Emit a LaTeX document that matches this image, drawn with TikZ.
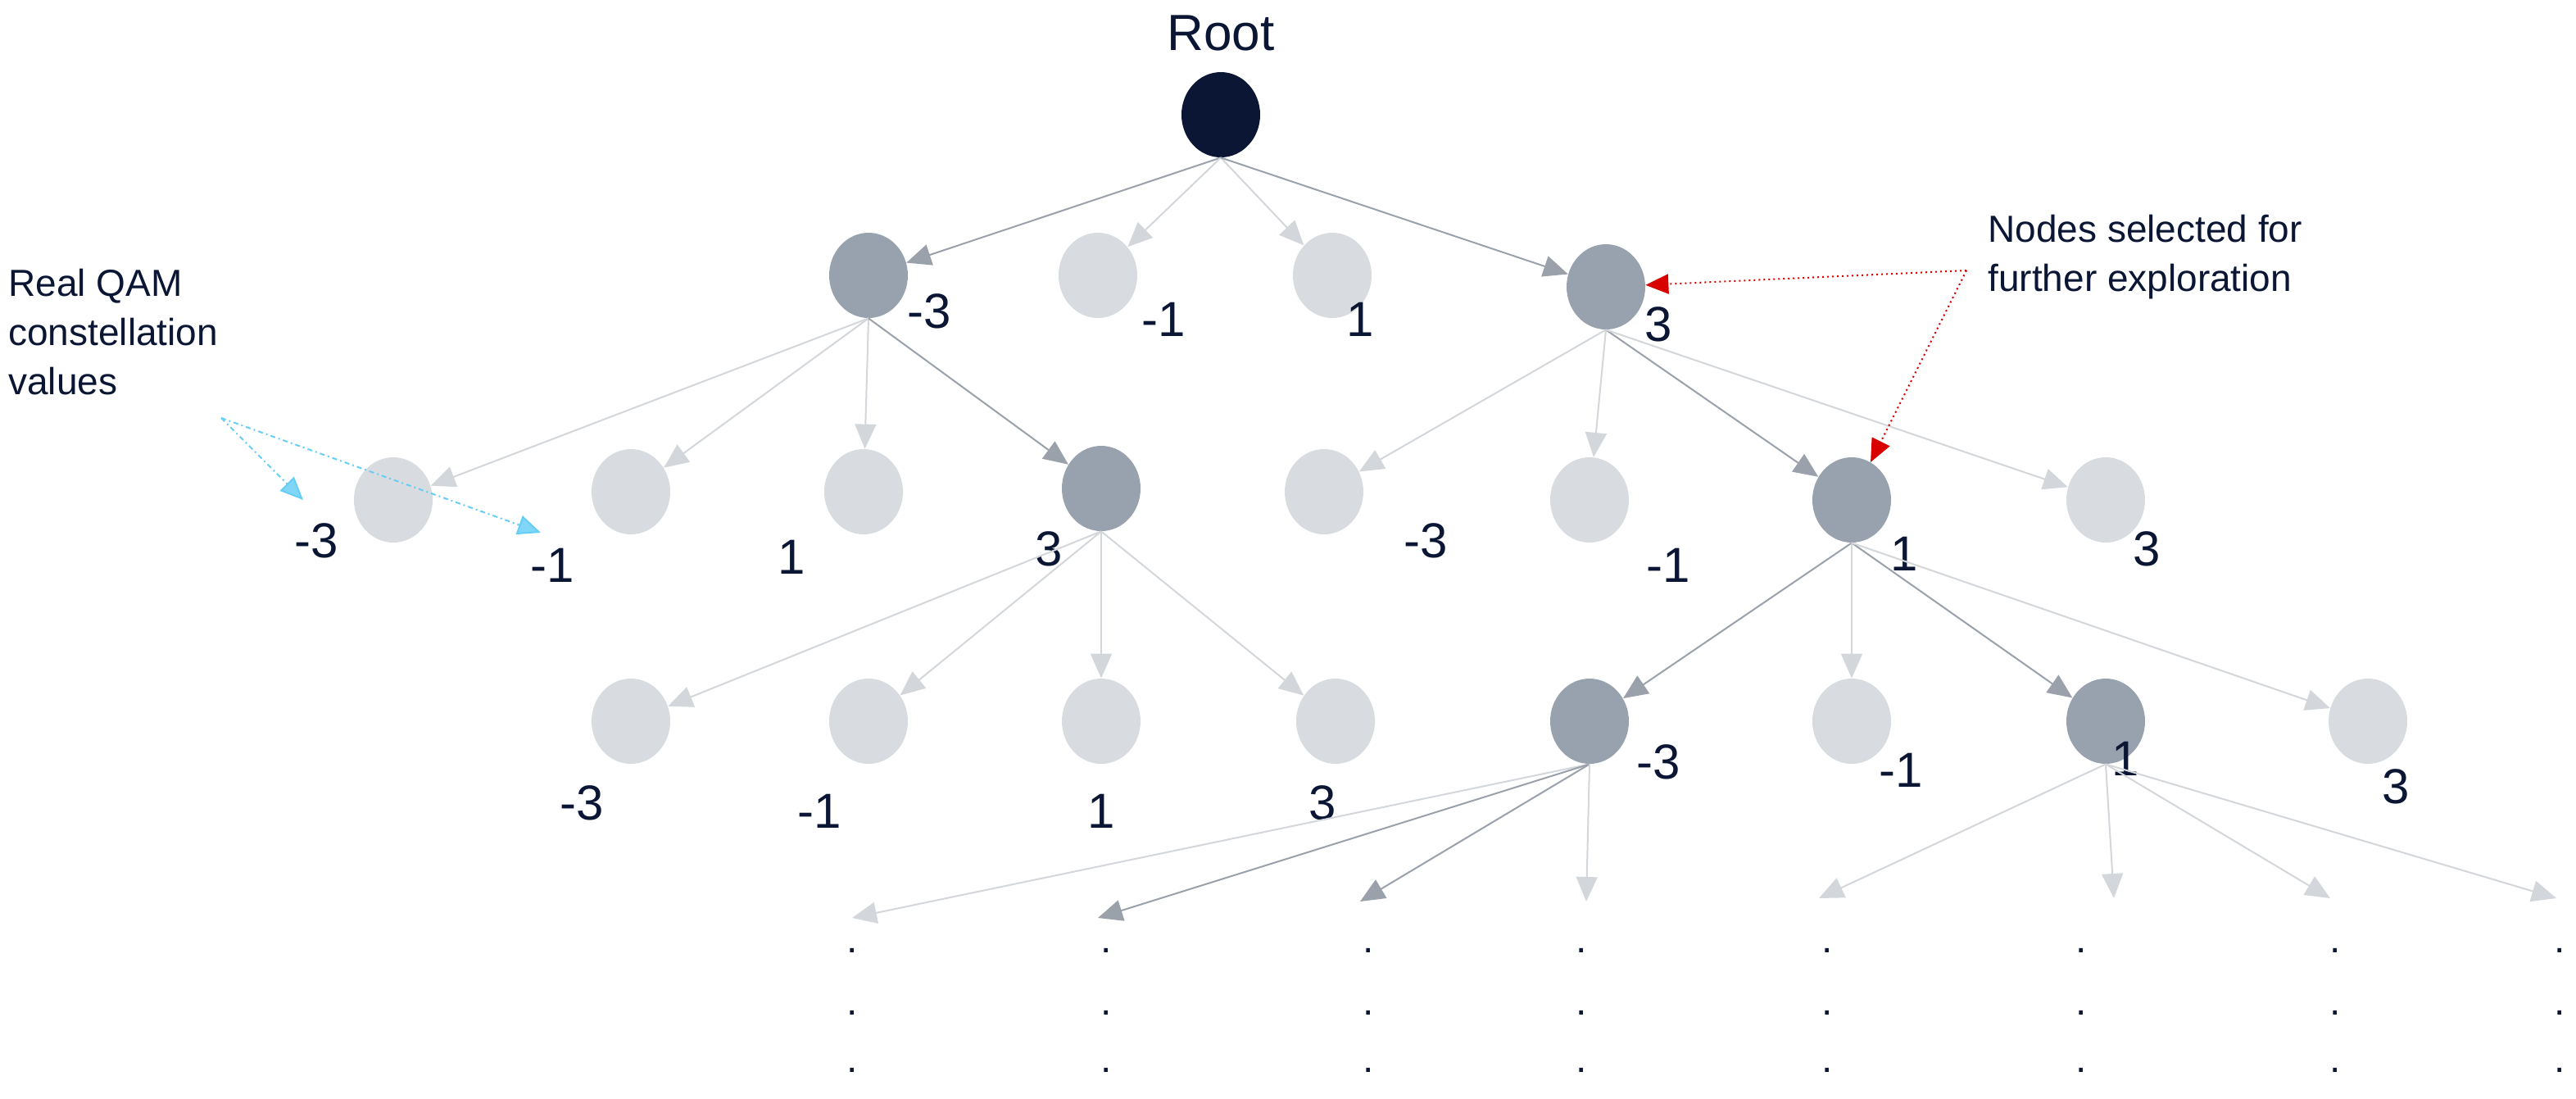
\documentclass[tikz,border=0pt]{standalone}
\usepackage{fontspec}
\setmainfont{Liberation Sans}
\usetikzlibrary{shapes.geometric,arrows.meta}
\definecolor{navy}{HTML}{0A1633}
\definecolor{dk}{HTML}{98A2AE}
\definecolor{lt}{HTML}{D8DBDF}
\definecolor{dkl}{HTML}{9AA1AA}
\definecolor{ltl}{HTML}{D3D6DA}
\begin{document}
\begin{tikzpicture}[x=1pt,y=-1pt,
  nd/.style={ellipse,minimum width=48pt,minimum height=52pt,inner sep=0pt},
  dn/.style={nd,fill=dk},
  ln/.style={nd,fill=lt},
  lab/.style={text=navy,font=\fontsize{30}{32}\selectfont,inner sep=0pt},
  de/.style={draw=dkl,line width=1pt,-{Triangle[length=15pt,width=13pt,fill=dkl]}},
  le/.style={draw=ltl,line width=1pt,-{Triangle[length=15pt,width=13pt,fill=ltl]}},
  dot/.style={text=navy,font=\fontsize{24}{24}\selectfont,inner sep=0pt}]
\useasboundingbox (0,0) rectangle (1572,670);
% root
\node[nd,fill=navy] (r) at (745,70) {};
\node[lab,font=\fontsize{31}{32}\selectfont] (rl) at (745,20) {Root};
% level 1
\node[dn] (a) at (530,168) {};
\node[ln] (b) at (670,168) {};
\node[ln] (c) at (813,168) {};
\node[dn] (d) at (980,175) {};
\node[lab] at (567,190) {-3};
\node[lab] at (710,195) {-1};
\node[lab] at (830,195) {1};
\node[lab] at (1012,198) {3};
\draw[de] (r.south) -- (a); \draw[le] (r.south) -- (b); \draw[le] (r.south) -- (c); \draw[de] (r.south) -- (d);
% level 2 left
\node[ln] (a1) at (240,305) {};
\node[ln] (a2) at (385,300) {};
\node[ln] (a3) at (527,300) {};
\node[dn] (a4) at (672,298) {};
\node[lab] at (193,330) {-3};
\node[lab] at (337,345) {-1};
\node[lab] at (483,340) {1};
\node[lab] at (640,335) {3};
\draw[le] (a.south) -- (a1); \draw[le] (a.south) -- (a2); \draw[le] (a.south) -- (a3); \draw[de] (a.south) -- (a4);
% level 2 right
\node[ln] (d1) at (808,300) {};
\node[ln] (d2) at (970,305) {};
\node[dn] (d3) at (1130,305) {};
\node[ln] (d4) at (1285,305) {};
\node[lab] at (870,330) {-3};
\node[lab] at (1018,345) {-1};
\node[lab] at (1162,338) {1};
\node[lab] at (1310,335) {3};
\draw[le] (d.south) -- (d1); \draw[le] (d.south) -- (d2); \draw[de] (d.south) -- (d3); \draw[le] (d.south) -- (d4);
% level 3 left
\node[ln] (e1) at (385,440) {};
\node[ln] (e2) at (530,440) {};
\node[ln] (e3) at (672,440) {};
\node[ln] (e4) at (815,440) {};
\node[lab] at (355,490) {-3};
\node[lab] at (500,495) {-1};
\node[lab] at (672,495) {1};
\node[lab] at (807,490) {3};
\draw[le] (a4.south) -- (e1); \draw[le] (a4.south) -- (e2); \draw[le] (a4.south) -- (e3); \draw[le] (a4.south) -- (e4);
% level 3 right
\node[dn] (f1) at (970,440) {};
\node[ln] (f2) at (1130,440) {};
\node[dn] (f3) at (1285,440) {};
\node[ln] (f4) at (1445,440) {};
\node[lab] at (1012,465) {-3};
\node[lab] at (1160,470) {-1};
\node[lab] at (1297,463) {1};
\node[lab] at (1462,480) {3};
\draw[de] (d3.south) -- (f1); \draw[le] (d3.south) -- (f2); \draw[de] (d3.south) -- (f3); \draw[le] (d3.south) -- (f4);
% level 4 stubs
\coordinate (g1) at (520,560); \coordinate (g2) at (670,560);
\coordinate (g3) at (830,550); \coordinate (g4) at (968,550);
\coordinate (h1) at (1110,548); \coordinate (h2) at (1290,548);
\coordinate (h3) at (1422,548); \coordinate (h4) at (1560,548);
\draw[le] (f1.south) -- (g1); \draw[de] (f1.south) -- (g2); \draw[de] (f1.south) -- (g3); \draw[le] (f1.south) -- (g4);
\draw[le] (f3.south) -- (h1); \draw[le] (f3.south) -- (h2); \draw[le] (f3.south) -- (h3); \draw[le] (f3.south) -- (h4);
\foreach \x [count=\i] in {520,675,835,965,1115,1270,1425,1562}{
  \foreach \y [count=\j] in {580,618,653}{
    \node[dot] (p\i\j) at (\x,\y) {.};
  }
}
% annotations
\node[text=navy,font=\fontsize{23}{30}\selectfont,align=left,anchor=north west,inner sep=0pt] (q) at (5,164) {Real QAM\\constellation\\values};
\coordinate (qc) at (135,255);
\draw[draw=cyan!60!white,line width=1pt,dash dot,-{Triangle[length=14pt,width=12pt,fill=cyan!50!white]}] (qc) -- (185,305);
\draw[draw=cyan!60!white,line width=1pt,dash dot,-{Triangle[length=14pt,width=12pt,fill=cyan!50!white]}] (qc) -- (330,325);
\node[text=navy,font=\fontsize{23}{30}\selectfont,align=left,anchor=north west,inner sep=0pt] (n) at (1213,131) {Nodes selected for\\further exploration};
\coordinate (nc) at (1200,165);
\draw[draw=red!85!black,line width=1pt,dotted,-{Triangle[length=14pt,width=12pt,fill=red!85!black]}] (nc) -- (d);
\draw[draw=red!85!black,line width=1pt,dotted,-{Triangle[length=14pt,width=12pt,fill=red!85!black]}] (nc) -- (d3);
\end{tikzpicture}
\end{document}
